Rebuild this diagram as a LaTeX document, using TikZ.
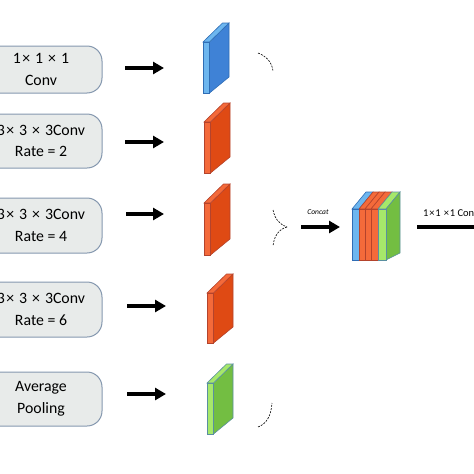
\documentclass[tikz,border=0pt]{standalone}
\usepackage{fontspec}
\setmainfont{Carlito}
\usetikzlibrary{arrows.meta}
\definecolor{boxfill}{HTML}{E8EBEA}
\definecolor{boxline}{HTML}{8598AF}
\definecolor{bluelt}{HTML}{6DB6EF}
\definecolor{bluedk}{HTML}{3F82D6}
\definecolor{blueln}{HTML}{2F6DB5}
\definecolor{orlt}{HTML}{F46A3A}
\definecolor{ordk}{HTML}{DF4A14}
\definecolor{orln}{HTML}{B4432C}
\definecolor{grlt}{HTML}{A6E86A}
\definecolor{grdk}{HTML}{73BE42}
\definecolor{grln}{HTML}{5A8FA0}
\newcommand{\tm}{\kern1.4pt×\kern1.4pt}
\tikzset{
  opbox/.style={draw=boxline, line width=1pt, fill=boxfill, rounded corners=15pt,
    minimum width=122pt, align=center, font=\fontsize{15.8}{21.5}\selectfont, inner sep=0pt},
  fatarrow/.style={line width=4.5pt, -{Triangle[length=11pt,width=12pt]}},
  braceline/.style={dashed, dash pattern=on 2pt off 1.2pt, line width=0.6pt},
}
\newcommand{\myslab}[6]{% x, ytop, h, light, dark, line
  \draw[#6, line width=0.6pt, fill=#5] (#1+6.5,#2) -- (#1+6.5,#2+#3) -- (#1+26,#2+#3-16) -- (#1+26,#2-19) -- cycle;
  \draw[#6, line width=0.6pt, fill=#4] (#1,#2) -- (#1+6.5,#2) -- (#1+26,#2-19) -- (#1+19.5,#2-19) -- cycle;
  \draw[#6, line width=0.6pt, fill=#4] (#1,#2) rectangle (#1+6.5,#2+#3);
}
\begin{document}
\begin{tikzpicture}[x=1pt,y=-1pt]
\useasboundingbox (0,0) rectangle (474,474);
\clip (0,0) rectangle (474,474);
% boxes
\node[opbox, minimum height=47pt] (b1) at (41,69.5) {1\tm{} 1 \tm{} 1\\Conv};
\node[opbox, minimum height=54pt] (b2) at (41,141) {3\tm{} 3 \tm{} 3Conv\\Rate = 2};
\node[opbox, minimum height=55pt] (b3) at (41,225.5) {3\tm{} 3 \tm{} 3Conv\\Rate = 4};
\node[opbox, minimum height=55pt] (b4) at (41,309.5) {3\tm{} 3 \tm{} 3Conv\\Rate = 6};
\node[opbox, minimum height=54pt] (b5) at (41,399) {Average\\Pooling};
% arrow end points
\coordinate (a1s) at (125,68);  \coordinate (a1e) at (164,68);
\coordinate (a2s) at (125,142); \coordinate (a2e) at (164,142);
\coordinate (a3s) at (126,214); \coordinate (a3e) at (164,214);
\coordinate (a4s) at (127,306); \coordinate (a4e) at (166,306);
\coordinate (a5s) at (127,394); \coordinate (a5e) at (166,394);
\draw[fatarrow] (a1s) -- (a1e);
\draw[fatarrow] (a2s) -- (a2e);
\draw[fatarrow] (a3s) -- (a3e);
\draw[fatarrow] (a4s) -- (a4e);
\draw[fatarrow] (a5s) -- (a5e);
% slabs
\myslab{203}{42}{51}{bluelt}{bluedk}{blueln}
\myslab{204}{122}{51}{orlt}{ordk}{orln}
\myslab{204}{203}{52}{orlt}{ordk}{orln}
\myslab{207}{293}{50}{orlt}{ordk}{orln}
\myslab{207}{383}{51}{grlt}{grdk}{grln}
% dashed brace pieces
\draw[braceline] (258,53) .. controls (266,56) and (272,62) .. (273,71);
\draw[braceline] (273,210) .. controls (275,219) and (279,224) .. (287,227);
\draw[braceline] (287,227) .. controls (279,229) and (274,236) .. (273,246);
\draw[braceline] (258,427) .. controls (266,424) and (271,417) .. (272,403);
% concat arrow
\coordinate (cs) at (301,227); \coordinate (ce) at (340,227);
\draw[fatarrow] (cs) -- (ce);
\node[font=\itshape\fontsize{7.5}{8}\selectfont] (clab) at (318,212) {Concat};
% concat block
\begin{scope}[line width=0.6pt]
\draw[blueln, fill=bluelt] (352,209) -- (359,209) -- (373,192) -- (366,192) -- cycle;
\draw[orln, fill=orlt] (359,209) -- (365,209) -- (379,192) -- (373,192) -- cycle;
\draw[orln, fill=orlt] (365,209) -- (371,209) -- (385,192) -- (379,192) -- cycle;
\draw[orln, fill=orlt] (371,209) -- (378,209) -- (392,192) -- (385,192) -- cycle;
\draw[grln, fill=grlt] (378,209) -- (386,209) -- (400,192) -- (392,192) -- cycle;
\draw[grln, fill=grdk] (386,209) -- (400,192) -- (400,253) -- (386,260) -- cycle;
\draw[blueln, fill=bluelt] (352,209) rectangle (359,260);
\draw[orln, fill=orlt] (359,209) rectangle (365,260);
\draw[orln, fill=orlt] (365,209) rectangle (371,260);
\draw[orln, fill=orlt] (371,209) rectangle (378,260);
\draw[grln, fill=grlt] (378,209) rectangle (386,260);
\end{scope}
\node[inner sep=0pt, minimum size=0pt] (blk) at (376,226) {};
% output arrow
\coordinate (os) at (417,227); \coordinate (oe) at (490,227);
\draw[line width=4.5pt] (os) -- (oe);
\node[anchor=west, inner sep=0pt, font=\fontsize{10.5}{11}\selectfont] (olab) at (423,213) {1\kern0.8pt×\kern0.8pt 1 \kern0.8pt×\kern0.8pt 1 Conv};
\end{tikzpicture}
\end{document}
